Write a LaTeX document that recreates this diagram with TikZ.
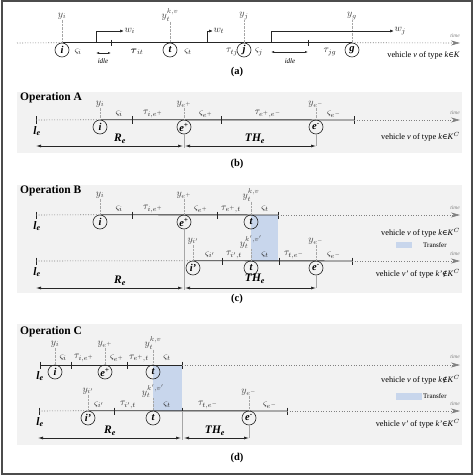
\documentclass[tikz,border=0pt]{standalone}
\usepackage{amsmath}
\usepackage{fontspec}
\setmainfont{Liberation Serif}
\newfontfamily\symfnt{DejaVu Serif}
\newcommand\vin{{\symfnt\fontsize{7.5}{7.5}\selectfont ∈}}
\newcommand\vnotin{{\symfnt\fontsize{7.5}{7.5}\selectfont ∉}}
\usetikzlibrary{arrows.meta}
\definecolor{bgc}{RGB}{242,242,242}
\definecolor{trc}{RGB}{200,214,236}
\begin{document}
\begin{tikzpicture}[x=1pt,y=-1pt,
 tl/.style={line width=0.9pt, black!85},
 dl/.style={gray, dash pattern=on 1pt off 1.6pt, line width=0.6pt},
 tarr/.style={dl, -{Stealth[length=9pt,width=5pt,gray]}},
 vdot/.style={gray!70, dash pattern=on 0.6pt off 0.8pt, line width=0.5pt},
 vg/.style={gray!70, line width=0.5pt},
 tickst/.style={line width=0.8pt, black!85},
 vn/.style={circle, draw=black!85, line width=0.6pt, minimum size=14pt, inner sep=0pt, font=\fontsize{10.5}{10.5}\selectfont\bfseries\itshape},
 ml/.style={font=\fontsize{10}{10}\selectfont, inner sep=0.3pt, text=black!85},
 yl/.style={font=\fontsize{10}{10}\selectfont, inner sep=0.3pt, text=black!75},
 vt/.style={font=\fontsize{8.3}{8.3}\selectfont, anchor=east, inner sep=0pt},
 tm/.style={font=\fontsize{5.5}{5.5}\selectfont\itshape, text=gray, anchor=east, inner sep=0pt},
 bl/.style={font=\fontsize{11.5}{11.5}\selectfont\bfseries\itshape, inner sep=0.5pt},
 opname/.style={font=\fontsize{11.5}{11.5}\selectfont\bfseries, anchor=west, inner sep=0pt},
 captxt/.style={font=\fontsize{10.5}{10.5}\selectfont\bfseries, inner sep=0pt},
 dimarr/.style={line width=0.7pt, black!85, {Latex[length=5pt,width=3pt]}-{Latex[length=5pt,width=3pt]}},
 idarr/.style={line width=0.5pt, black!85, {Latex[length=3pt,width=2pt]}-{Latex[length=3pt,width=2pt]}},
 warr/.style={line width=0.7pt, black!85, -{Latex[length=4pt,width=3pt]}},
 idl/.style={font=\fontsize{7}{7}\selectfont\itshape, inner sep=0pt},
 bgr/.style={fill=bgc, draw=none},
 trr/.style={fill=trc, draw=none},
 ]
\useasboundingbox (0,0) rectangle (474,476);
\fill[white] (0,0) rectangle (474,476);
\draw[line width=2pt, black!70] (1.5,1) rectangle (471.5,473.5);

% ================= (a) =================
\coordinate (A0) at (17,43);
\coordinate (Aend) at (460,43);
\node[vn] (Ai) at (62,50) {i};
\node[vn] (At) at (170,50) {t};
\node[vn] (Aj) at (244,50) {j};
\node[vn] (Ag) at (352,50) {g};
\draw[dl] (A0) -- (Ai.north);
\draw[tl] (Ai.north) -- (Ag.north);
\draw[tarr] (Ag.north) -- (Aend);
\node[yl] (Ayi) at (62,16) {$y_i$};
\node[yl] (Ayt) at (170,15) {$y_t^{k,v}$};
\node[yl] (Ayj) at (244,16) {$y_j$};
\node[yl] (Ayg) at (352,16) {$y_g$};
\draw[vdot] (Ayi) -- (Ai.north);
\draw[vdot] (Ayt) -- (At.north);
\draw[vdot] (Ayj) -- (Aj.north);
\draw[vdot] (Ayg) -- (Ag.north);
\node[ml] (Asi) at (78,52) {$\varsigma_i$};
\node[ml] (Atit) at (137,52) {$\boldsymbol{\tau}_{it}$};
\node[ml] (Ast) at (188,52) {$\varsigma_t$};
\node[ml] (Atj) at (232,52) {$\tau_{tj}$};
\node[ml] (Asj) at (259,52) {$\varsigma_j$};
\node[ml] (Atg) at (330,52) {$\tau_{jg}$};
% waiting arrows
\coordinate (Aw1) at (96,43); \coordinate (Aw1u) at (96,31);
\node[ml,anchor=west] (Awi) at (124,31) {$w_i$};
\draw[warr] (Aw1) -- (Aw1u) -- (Awi.west);
\coordinate (Aw2) at (207,43); \coordinate (Aw2u) at (207,31);
\node[ml,anchor=west] (Awt) at (213,31) {$w_t$};
\draw[warr] (Aw2) -- (Aw2u) -- (Awt.west);
\coordinate (Aw3) at (271,43); \coordinate (Aw3u) at (271,31);
\node[ml,anchor=west] (Awj) at (394,31) {$w_j$};
\draw[warr] (Aw3) -- (Aw3u) -- (Awj.west);
\draw[tickst] (111,40) -- (111,46);
\draw[tickst] (308,40) -- (308,46);
% idle
\coordinate (Aid1a) at (96,53); \coordinate (Aid1b) at (111,53);
\draw[idarr] (Aid1a) -- (Aid1b);
\node[idl] (Aidl1) at (103,61) {idle};
\coordinate (Aid2a) at (271,52); \coordinate (Aid2b) at (308,52);
\draw[idarr] (Aid2a) -- (Aid2b);
\node[idl] (Aidl2) at (290,61) {idle};
\node[tm] (Atm) at (460,36) {time};
\node[vt] (Avt) at (460,55) {vehicle \textit{v} of type \textit{k}\vin\textit{K}};
\node[captxt] (Acap) at (237,72) {(a)};

% ================= (b) =================
\fill[bgr] (17,92) rectangle (462,153);
\node[opname] (Bop) at (20,98) {Operation A};
\coordinate (Bl) at (36,120);
\draw[tickst] (36,116.5) -- (36,123.5);
\node[bl] (Ble) at (37,131) {l\textsubscript{e}};
\node[vn] (Bi) at (100,127) {i};
\node[vn] (Bep) at (184,127) {e\textsuperscript{+}};
\node[vn] (Bem) at (316,127) {e\textsuperscript{-}};
\coordinate (Bend) at (354,120);
\coordinate (Barr) at (460,120);
\draw[dl] (Bl) -- (Bi.north);
\draw[tl] (Bi.north) -- (Bend);
\draw[tickst] (354,116.5) -- (354,123.5);
\draw[tickst] (132,116.5) -- (132,123.5);
\draw[tickst] (221,116.5) -- (221,123.5);
\draw[tarr] (Bend) -- (Barr);
\node[yl] (Byi) at (100,104) {$y_i$};
\node[yl] (Byep) at (184,104) {$y_{e^+}$};
\node[yl] (Byem) at (316,104) {$y_{e^-}$};
\draw[vdot] (Byi) -- (Bi.north);
\draw[vdot] (Byep) -- (Bep.north);
\draw[vdot] (Byem) -- (Bem.north);
\node[ml] (Bsi) at (119,114) {$\varsigma_i$};
\node[ml] (Btie) at (153,114) {$\tau_{i,e^+}$};
\node[ml] (Bsep) at (206,114) {$\varsigma_{e^+}$};
\node[ml] (Btee) at (268,114) {$\tau_{e^+,e^-}$};
\node[ml] (Bsem) at (334,114) {$\varsigma_{e^-}$};
\node[tm] (Btm) at (460,113) {time};
\node[vt] (Bvt) at (460,137) {vehicle \textit{v} of type \textit{k}\vin\textit{K}$^C$};
\coordinate (BR1) at (36,146); \coordinate (BR2) at (183,146);
\coordinate (BT1) at (185,146); \coordinate (BT2) at (316,146);
\draw[vg] (Bep.south) -- (184,148);
\draw[vg] (Bem.south) -- (BT2);
\draw[dimarr] (BR1) -- (BR2);
\draw[dimarr] (BT1) -- (BT2);
\node[bl] (BRe) at (120,139) {R\textsubscript{e}};
\node[bl] (BTHe) at (255,139) {TH\textsubscript{e}};
\node[captxt] (Bcap) at (237,164) {(b)};

% ================= (c) =================
\fill[bgr] (17,185) rectangle (462,293);
\fill[trr] (251,215) rectangle (278,261);
\node[opname] (Cop) at (20,191) {Operation B};
% row 1
\coordinate (Cl1) at (36,215);
\draw[tickst] (36,211.5) -- (36,218.5);
\node[bl] (Cle1) at (37,226) {l\textsubscript{e}};
\node[vn] (Ci) at (100,222) {i};
\node[vn] (Cep) at (184,222) {e\textsuperscript{+}};
\node[vn] (Ct1) at (251,222) {t};
\coordinate (Cend1) at (278,215);
\coordinate (Carr1) at (460,215);
\draw[dl] (Cl1) -- (Ci.north);
\draw[tl] (Ci.north) -- (Cend1);
\draw[tickst] (278,211.5) -- (278,218.5);
\draw[tickst] (132,211.5) -- (132,218.5);
\draw[tickst] (217,211.5) -- (217,218.5);
\draw[tarr] (Cend1) -- (Carr1);
\node[yl] (Cyi) at (100,195) {$y_i$};
\node[yl] (Cyep) at (184,195) {$y_{e^+}$};
\node[yl] (Cyt1) at (251,195) {$y_t^{k,v}$};
\draw[vdot] (Cyi) -- (Ci.north);
\draw[vdot] (Cyep) -- (Cep.north);
\draw[vdot] (Cyt1) -- (Ct1.north);
\node[ml] (Csi) at (119,209) {$\varsigma_i$};
\node[ml] (Ctie) at (153,209) {$\tau_{i,e^+}$};
\node[ml] (Csep) at (201,209) {$\varsigma_{e^+}$};
\node[ml] (Ctet) at (231,209.5) {$\tau_{e^+,t}$};
\node[ml] (Cst1) at (265,209) {$\varsigma_t$};
\node[tm] (Ctm1) at (460,208) {time};
\node[vt] (Cvt1) at (460,233) {vehicle \textit{v} of type \textit{k}\vin\textit{K}$^C$};
% row 2
\coordinate (Cl2) at (36,261);
\draw[tickst] (36,257.5) -- (36,264.5);
\node[bl] (Cle2) at (37,272) {l\textsubscript{e}};
\node[vn] (Cip) at (193,268) {i'};
\node[vn] (Ct2) at (251,268) {t};
\node[vn] (Cem) at (316,268) {e\textsuperscript{-}};
\coordinate (Cend2) at (352,261);
\coordinate (Carr2) at (460,261);
\draw[dl] (Cl2) -- (Cip.north);
\draw[tl] (Cip.north) -- (Cend2);
\draw[tickst] (352,257.5) -- (352,264.5);
\draw[tickst] (222,257.5) -- (222,264.5);
\draw[tickst] (279,257.5) -- (279,264.5);
\draw[tarr] (Cend2) -- (Carr2);
\node[yl] (Cyip) at (193,241) {$y_{i'}$};
\node[yl] (Cyt2) at (251,242) {$y_t^{k',v'}$};
\node[yl] (Cyem) at (316,241) {$y_{e^-}$};
\draw[vdot] (Cyip) -- (Cip.north);
\draw[vdot] (Cyt2) -- (Ct2.north);
\draw[vdot] (Cyem) -- (Cem.north);
\node[ml] (Csip) at (210,255) {$\varsigma_{i'}$};
\node[ml] (Ctit) at (234,255) {$\tau_{i',t}$};
\node[ml] (Cst2) at (265,255) {$\varsigma_t$};
\node[ml] (Ctte) at (294,255) {$\tau_{t,e^-}$};
\node[ml] (Csem) at (334,255) {$\varsigma_{e^-}$};
\node[tm] (Ctm2) at (460,254) {time};
\node[vt] (Cvt2) at (460,274) {vehicle \textit{v'} of type \textit{k'}\vnotin\textit{K}$^C$};
% legend
\fill[trr] (396,242) rectangle (412,248);
\node[vt,anchor=west,font=\fontsize{7}{7}\selectfont] (Ctr) at (423,245) {Transfer};
% dims
\coordinate (CR1) at (36,288); \coordinate (CR2) at (183,288);
\coordinate (CT1) at (185,288); \coordinate (CT2) at (316,288);
\draw[vg] (Cep.south) -- (184,290);
\draw[vg] (Cem.south) -- (CT2);
\draw[dimarr] (CR1) -- (CR2);
\draw[dimarr] (CT1) -- (CT2);
\node[bl] (CRe) at (120,281) {R\textsubscript{e}};
\node[bl] (CTHe) at (255,279) {TH\textsubscript{e}};
\node[captxt] (Ccap) at (237,299) {(c)};

% ================= (d) =================
\fill[bgr] (17,324) rectangle (462,445);
\fill[trr] (153,365) rectangle (182,411);
\node[opname] (Dop) at (20,332) {Operation C};
% row 1
\coordinate (Dl1) at (40,365);
\draw[tickst] (40,361.5) -- (40,368.5);
\node[bl] (Dle1) at (40,376) {l\textsubscript{e}};
\node[vn] (Di) at (55,372) {i};
\node[vn] (Dep) at (105,372) {e\textsuperscript{+}};
\node[vn] (Dt1) at (153,372) {t};
\coordinate (Dend1) at (182,365);
\coordinate (Darr1) at (460,365);
\draw[tl] (Dl1) -- (Dend1);
\draw[tickst] (182,361.5) -- (182,368.5);
\draw[tickst] (71,361.5) -- (71,368.5);
\draw[tickst] (127,361.5) -- (127,368.5);
\draw[tarr] (Dend1) -- (Darr1);
\node[yl] (Dyi) at (55,344) {$y_i$};
\node[yl] (Dyep) at (105,344) {$y_{e^+}$};
\node[yl] (Dyt1) at (153,343) {$y_t^{k,v}$};
\draw[vdot] (Dyi) -- (Di.north);
\draw[vdot] (Dyep) -- (Dep.north);
\draw[vdot] (Dyt1) -- (Dt1.north);
\node[ml] (Dsi) at (63,358) {$\varsigma_i$};
\node[ml] (Dtie) at (84,358) {$\tau_{i,e^+}$};
\node[ml] (Dsep) at (117,358) {$\varsigma_{e^+}$};
\node[ml] (Dtet) at (139,358.5) {$\tau_{e^+,t}$};
\node[ml] (Dst1) at (167,358) {$\varsigma_t$};
\node[tm] (Dtm1) at (460,357) {time};
\node[vt] (Dvt1) at (460,380) {vehicle \textit{v} of type \textit{k}\vnotin\textit{K}$^C$};
% row 2
\coordinate (Dl2) at (39,411);
\draw[tickst] (39,407.5) -- (39,414.5);
\node[bl] (Dle2) at (40,422) {l\textsubscript{e}};
\node[vn] (Dip) at (88,418) {i'};
\node[vn] (Dt2) at (153,418) {t};
\node[vn] (Dem) at (249,418) {e\textsuperscript{-}};
\coordinate (Dend2) at (287,411);
\coordinate (Darr2) at (460,411);
\draw[dl] (Dl2) -- (Dip.north);
\draw[tl] (Dip.north) -- (Dend2);
\draw[tickst] (287,407.5) -- (287,414.5);
\draw[tickst] (114,407.5) -- (114,414.5);
\draw[tickst] (182,407.5) -- (182,414.5);
\draw[tarr] (Dend2) -- (Darr2);
\node[yl] (Dyip) at (88,391) {$y_{i'}$};
\node[yl] (Dyt2) at (153,391) {$y_t^{k',v'}$};
\node[yl] (Dyem) at (249,392) {$y_{e^-}$};
\draw[vdot] (Dyip) -- (Dip.north);
\draw[vdot] (Dyt2) -- (Dt2.north);
\draw[vdot] (Dyem) -- (Dem.north);
\node[ml] (Dsip) at (99,405) {$\varsigma_{i'}$};
\node[ml] (Dtit) at (128,405) {$\tau_{i',t}$};
\node[ml] (Dst2) at (167,405) {$\varsigma_t$};
\node[ml] (Dtte) at (208,405) {$\tau_{t,e^-}$};
\node[ml] (Dsem) at (270,405) {$\varsigma_{e^-}$};
\node[tm] (Dtm2) at (460,404) {time};
\node[vt] (Dvt2) at (460,424) {vehicle \textit{v'} of type \textit{k'}\vin\textit{K}$^C$};
% legend
\fill[trr] (396,393) rectangle (422,400);
\node[vt,anchor=west,font=\fontsize{7}{7}\selectfont] (Dtr) at (423,396) {Transfer};
% dims
\coordinate (DR1) at (38,438); \coordinate (DR2) at (181,438);
\coordinate (DT1) at (184,438); \coordinate (DT2) at (249,438);
\coordinate (Dbt) at (182,411);
\draw[vg] (Dbt) -- (182,440);
\draw[vg] (Dem.south) -- (DT2);
\draw[dimarr] (DR1) -- (DR2);
\draw[dimarr] (DT1) -- (DT2);
\node[bl] (DRe) at (110,431) {R\textsubscript{e}};
\node[bl] (DTHe) at (215,431) {TH\textsubscript{e}};
\node[captxt] (Dcap) at (237,458) {(d)};
\end{tikzpicture}
\end{document}
